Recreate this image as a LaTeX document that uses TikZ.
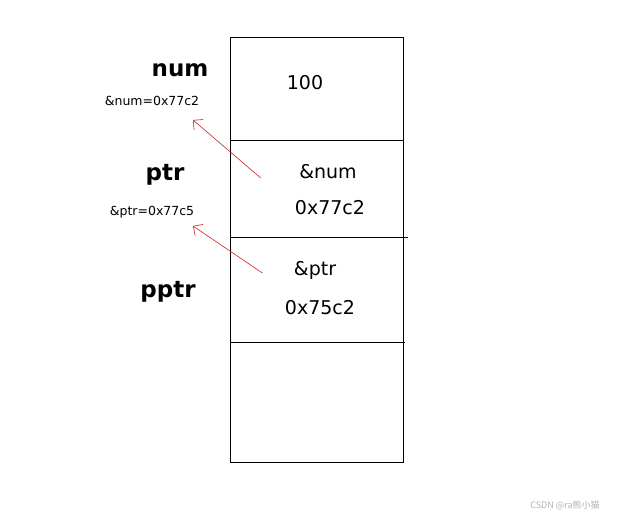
\documentclass[tikz,border=0pt]{standalone}
\usepackage{fontspec}
\setmainfont{DejaVu Sans}
\newfontfamily\cjk{Noto Sans CJK SC}
\usetikzlibrary{arrows.meta}
\definecolor{arrowred}{HTML}{D02020}
\tikzset{
  cell/.style={draw, thick},
  big/.style={font=\fontsize{23}{25}\selectfont\bfseries},
  mid/.style={font=\fontsize{19}{21}\selectfont},
  small/.style={font=\fontsize{12.5}{14}\selectfont},
  ptrarrow/.style={draw=arrowred, semithick, -{Straight Barb[length=7pt]}}
}
\begin{document}
\begin{tikzpicture}[x=1pt, y=-1pt]
  \useasboundingbox (0,0) rectangle (624,517);
  % memory cells
  \draw[cell] (230,37) rectangle (403,462);
  \draw[cell] (230,140) -- (403,140);
  \draw[cell] (230,237) -- (408,237);
  \draw[cell] (230,342) -- (405,342);

  % labels on the left
  \node[big] (numname) at (180,70) {num};
  \node[small] (numaddr) at (152,101) {\&num=0x77c2};
  \node[big] (ptrname) at (165,175) {ptr};
  \node[small] (ptraddr) at (152,212) {\&ptr=0x77c5};
  \node[big] (pptrname) at (168,292) {pptr};

  % cell contents
  \node[mid] (val) at (305,83) {100};
  \node[mid] (ptrref) at (328,172) {\&num};
  \node[mid] (ptrval) at (330,208) {0x77c2};
  \node[mid] (pptrref) at (315,270) {\&ptr};
  \node[mid] (pptrval) at (320,308) {0x75c2};

  % pointers
  \coordinate (a1) at (193,120);
  \coordinate (a2) at (193,226);
  \path[ptrarrow] (ptrref.west) ++(-35,6) -- (a1);
  \path[ptrarrow] (pptrref.west) ++(-28,3) -- (a2);

  \node[font=\cjk\fontsize{9}{10}\selectfont, text=gray!60] (mark) at (565,505) {CSDN @ra熊小猫};
\end{tikzpicture}
\end{document}
